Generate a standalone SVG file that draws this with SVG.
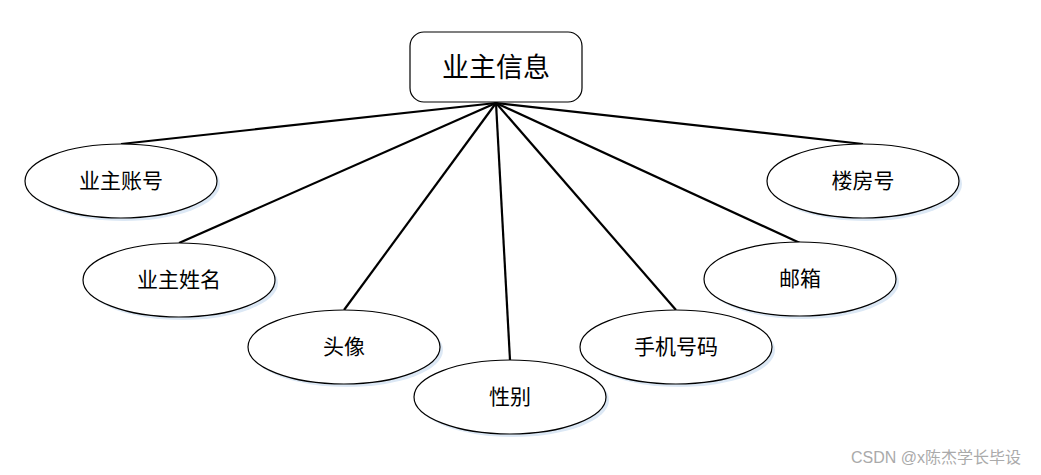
<svg xmlns="http://www.w3.org/2000/svg" width="1041" height="475" viewBox="0 0 1041 475">
<style>
.e{fill:#fff;stroke:#000;stroke-width:1.2}
.s{fill:#dce8f5;stroke:none}
.t{font-family:"Liberation Serif","Noto Sans CJK SC",serif;font-size:21px;text-anchor:middle;dominant-baseline:central;fill:#000}
.c line{stroke:#000;stroke-width:2.2}
</style>
<rect width="1041" height="475" fill="#fff"/>
<g class="c">
<line x1="496" y1="103" x2="121" y2="144"/>
<line x1="496" y1="103" x2="179" y2="243"/>
<line x1="496" y1="103" x2="344" y2="310"/>
<line x1="496" y1="103" x2="510" y2="360"/>
<line x1="496" y1="103" x2="676" y2="310"/>
<line x1="496" y1="103" x2="800" y2="243"/>
<line x1="496" y1="103" x2="863" y2="144"/>
</g>
<g id="root"><rect x="410" y="32" width="172" height="70" rx="14" class="e"/><text x="496" y="68" class="t" style="font-size:27px">业主信息</text></g>
<g id="n1"><ellipse cx="124" cy="184" rx="96" ry="37" class="s"/><ellipse cx="121" cy="181" rx="96" ry="37" class="e"/><text x="121" y="181" class="t">业主账号</text></g>
<g id="n2"><ellipse cx="182" cy="283" rx="96" ry="37" class="s"/><ellipse cx="179" cy="280" rx="96" ry="37" class="e"/><text x="179" y="280" class="t">业主姓名</text></g>
<g id="n3"><ellipse cx="347" cy="350" rx="96" ry="37" class="s"/><ellipse cx="344" cy="347" rx="96" ry="37" class="e"/><text x="344" y="347" class="t">头像</text></g>
<g id="n4"><ellipse cx="513" cy="400" rx="96" ry="37" class="s"/><ellipse cx="510" cy="397" rx="96" ry="37" class="e"/><text x="510" y="397" class="t">性别</text></g>
<g id="n5"><ellipse cx="679" cy="350" rx="96" ry="37" class="s"/><ellipse cx="676" cy="347" rx="96" ry="37" class="e"/><text x="676" y="347" class="t">手机号码</text></g>
<g id="n6"><ellipse cx="803" cy="282" rx="96" ry="37" class="s"/><ellipse cx="800" cy="279" rx="96" ry="37" class="e"/><text x="800" y="279" class="t">邮箱</text></g>
<g id="n7"><ellipse cx="866" cy="184" rx="96" ry="37" class="s"/><ellipse cx="863" cy="181" rx="96" ry="37" class="e"/><text x="863" y="181" class="t">楼房号</text></g>
<text x="936" y="457" style="font-family:'Liberation Sans','Noto Sans CJK SC',sans-serif;font-size:16px;fill:#aaa;text-anchor:middle;dominant-baseline:central">CSDN @x陈杰学长毕设</text>
</svg>
